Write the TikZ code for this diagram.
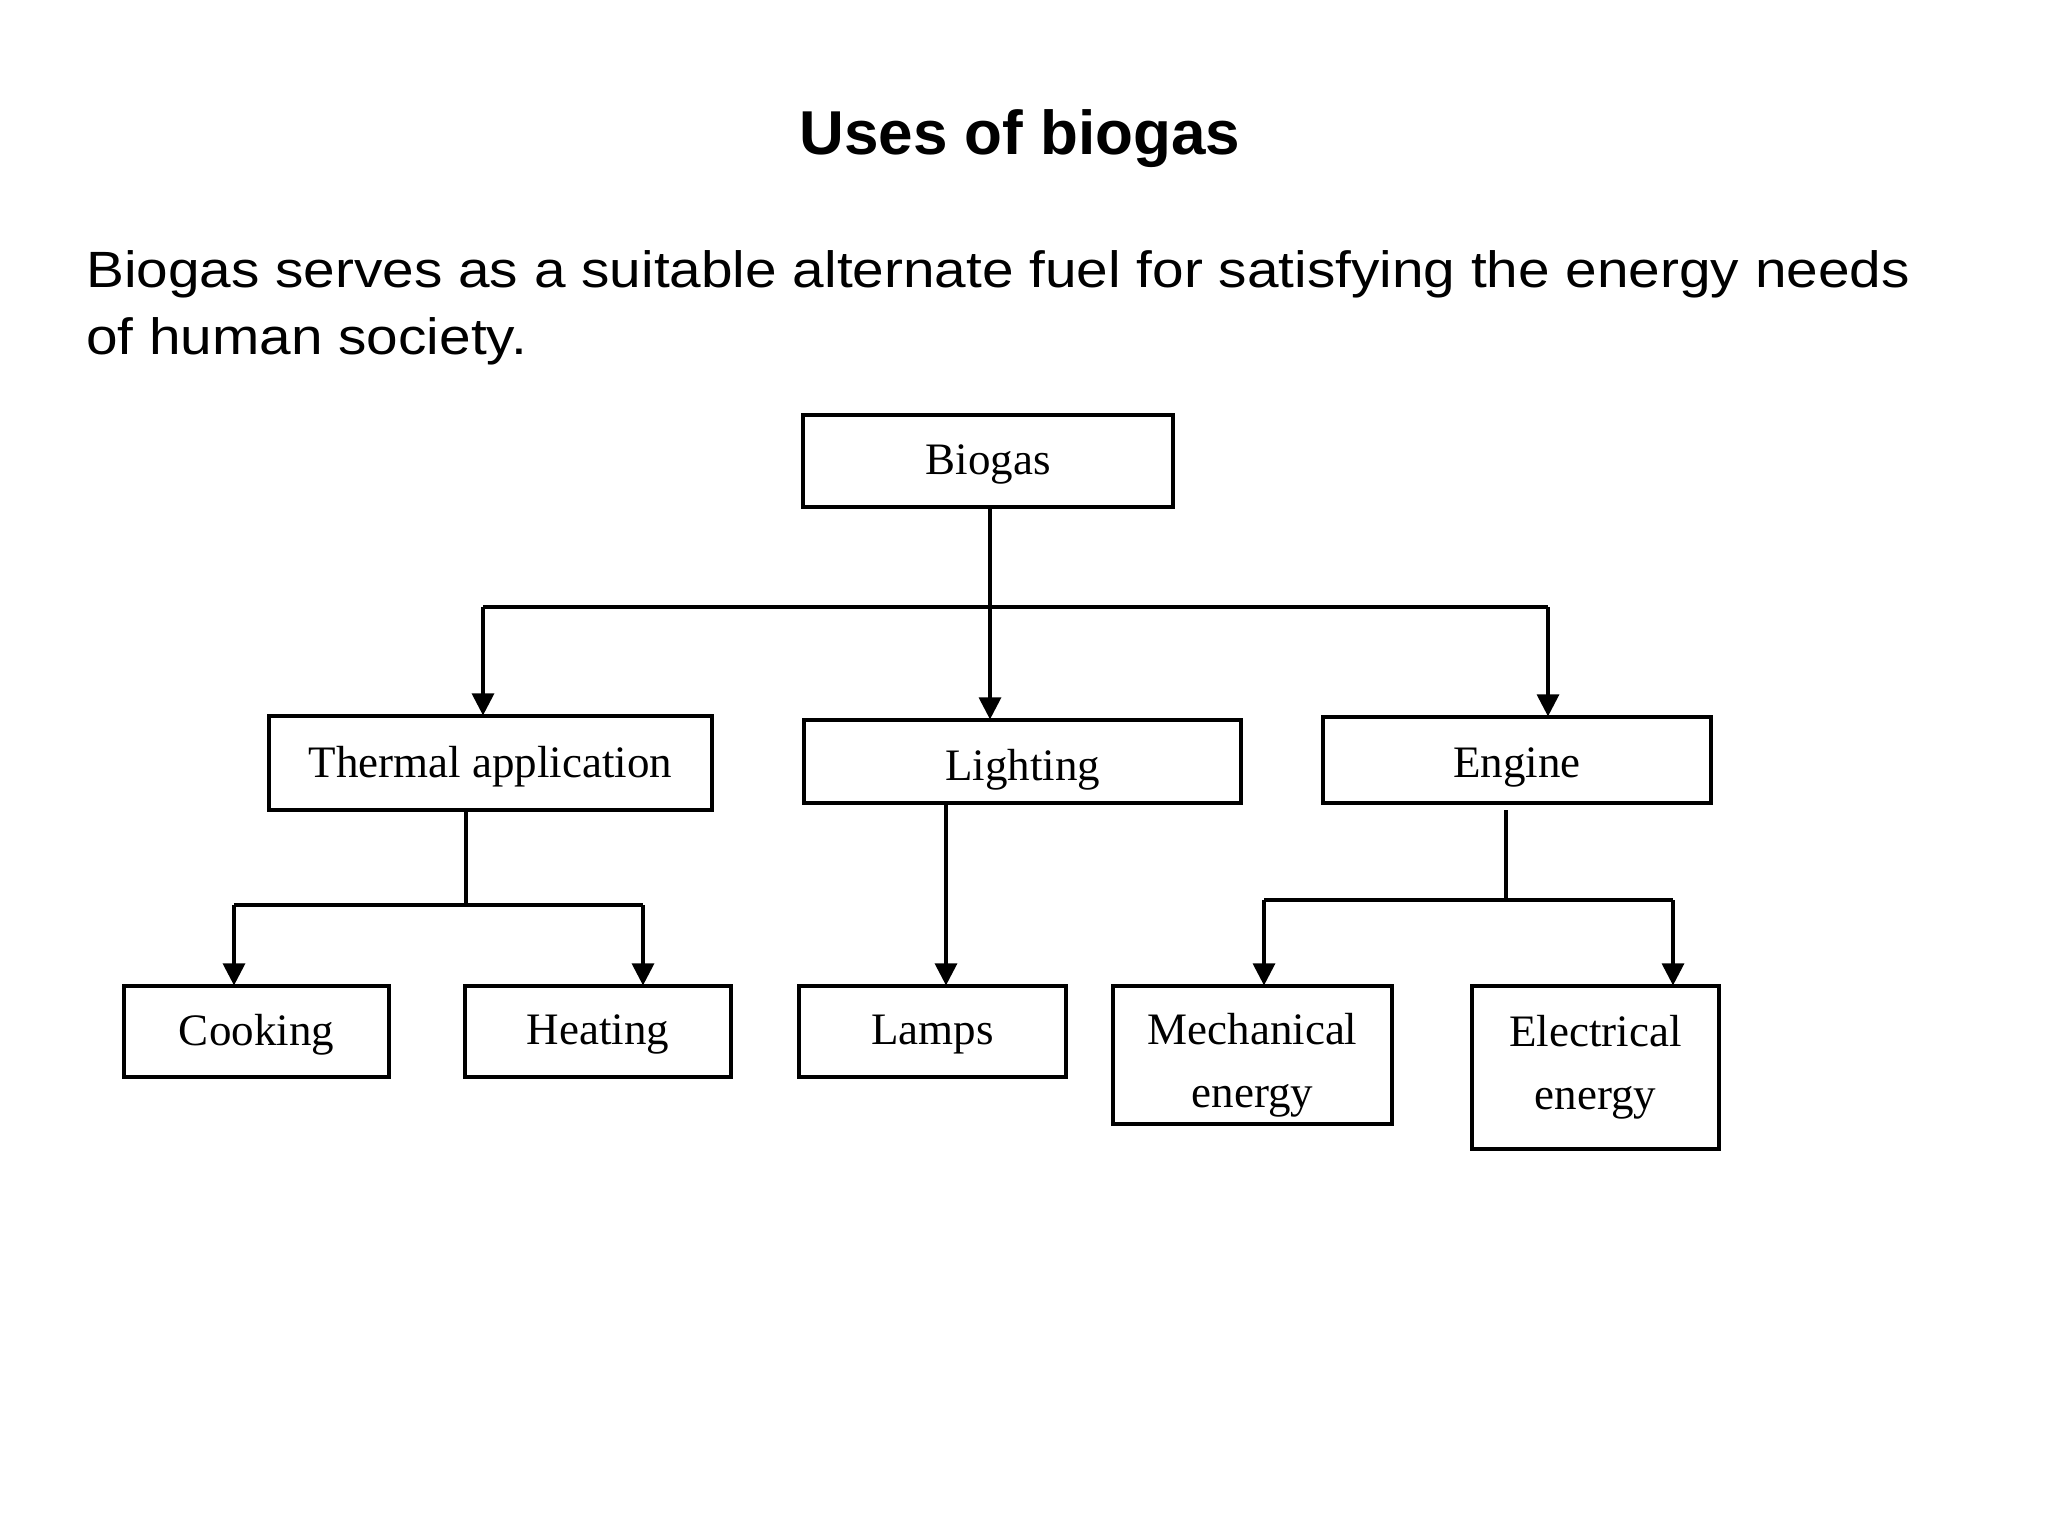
\documentclass[tikz,border=0pt]{standalone}
\usepackage{fontspec}
\setmainfont{Liberation Serif}
\newfontfamily\arial{Liberation Sans}
\newfontfamily\arialwide[FakeStretch=1.113]{Liberation Sans}
\usetikzlibrary{arrows.meta}
\newcommand{\twolines}[3]{\raisebox{#1}[0pt][0pt]{\begin{tabular}{@{}c@{}}#2\\#3\end{tabular}}}
\begin{document}
\begin{tikzpicture}[x=1pt,y=-1pt,
  box/.style={draw=black, line width=3.2pt, inner sep=0pt, align=center,
    font=\fontsize{45}{63}\selectfont, text=black, text depth=3pt},
  flat/.style={text height=0pt, text depth=0pt},
  conn/.style={line width=3.2pt, black},
  arr/.style={conn, -{Triangle[width=22pt,length=22pt]}, shorten >=-1pt},
  ttl/.style={font=\arial\bfseries\fontsize{62}{70}\selectfont},
  para/.style={font=\arialwide\fontsize{51}{66}\selectfont, inner sep=0pt}]
\useasboundingbox (0,0) rectangle (2048,1536);
\fill[white] (0,0) rectangle (2048,1536);

\node[ttl, anchor=base] (title) at (1020,154) {Uses of biogas};
\node[para, anchor=base west] (p1) at (86,287) {Biogas serves as a suitable alternate fuel for satisfying the energy needs};
\node[para, anchor=base west] (p2) at (86,354) {of human society.};

% boxes: center, width, height
\node[box, minimum width=370pt, minimum height=92pt] (biogas) at (988,461) {Biogas};
\node[box, minimum width=443pt, minimum height=94pt] (thermal) at (490.5,763) {Thermal application};
\node[box, minimum width=437pt, minimum height=83pt, text height=40pt] (lighting) at (1022.5,761.5) {Lighting};
\node[box, minimum width=388pt, minimum height=86pt, text height=37pt] (engine) at (1517,760) {Engine};
\node[box, minimum width=265pt, minimum height=91pt] (cooking) at (256.5,1031.5) {Cooking};
\node[box, minimum width=266pt, minimum height=91pt] (heating) at (598,1031.5) {Heating};
\node[box, minimum width=267pt, minimum height=91pt] (lamps) at (932.5,1031.5) {Lamps};
\node[box, flat, minimum width=279pt, minimum height=138pt] (mech) at (1252.5,1055) {\twolines{-15pt}{Mechanical}{energy}};
\node[box, flat, minimum width=247pt, minimum height=163pt] (elec) at (1595.5,1067.5) {\twolines{-4pt}{Electrical}{energy}};

% top bus
\coordinate (busL) at (483,607);
\coordinate (busR) at (1548,607);
\coordinate (busM) at (990,607);
\draw[conn] (busM |- biogas.south) -- (busM);
\draw[conn] (busL) -- (busR);
\draw[arr] (busM) -- (busM |- lighting.north);
\draw[arr] (busL) -- (busL |- thermal.north);
\draw[arr] (busR) -- (busR |- engine.north);

% thermal sub-bus
\coordinate (tj) at (466,905);
\coordinate (tL) at (234,905);
\coordinate (tR) at (643,905);
\draw[conn] (tj |- thermal.south) -- (tj);
\draw[conn] (tL) -- (tR);
\draw[arr] (tL) -- (tL |- cooking.north);
\draw[arr] (tR) -- (tR |- heating.north);

% lighting
\coordinate (lx) at (946,0);
\draw[arr] (lx |- lighting.south) -- (lx |- lamps.north);

% engine sub-bus
\coordinate (ej) at (1506,900);
\coordinate (eTop) at (1506,810);
\coordinate (eL) at (1264,900);
\coordinate (eR) at (1673,900);
\draw[conn] (eTop) -- (ej);
\draw[conn] (eL) -- (eR);
\draw[arr] (eL) -- (eL |- mech.north);
\draw[arr] (eR) -- (eR |- elec.north);
\end{tikzpicture}
\end{document}
